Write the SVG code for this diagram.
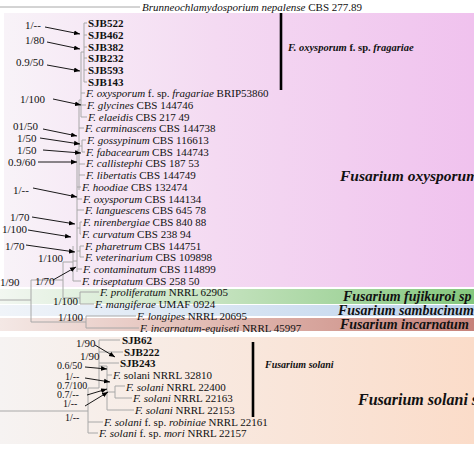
<svg xmlns="http://www.w3.org/2000/svg" width="474" height="474" viewBox="0 0 474 474">
<defs>
<linearGradient id="gPink" x1="0" y1="0" x2="1" y2="0"><stop offset="0" stop-color="#f8f3f8"/><stop offset="0.45" stop-color="#f4daf2"/><stop offset="1" stop-color="#f0c2ee"/></linearGradient>
<linearGradient id="gGreen" x1="0" y1="0" x2="1" y2="0"><stop offset="0" stop-color="#f2f7f1"/><stop offset="0.45" stop-color="#c6e3c0"/><stop offset="1" stop-color="#84c77d"/></linearGradient>
<linearGradient id="gBlue" x1="0" y1="0" x2="1" y2="0"><stop offset="0" stop-color="#f0f4f9"/><stop offset="1" stop-color="#bdd3ec"/></linearGradient>
<linearGradient id="gBrown" x1="0" y1="0" x2="1" y2="0"><stop offset="0" stop-color="#f4e8e5"/><stop offset="0.5" stop-color="#dfb5ad"/><stop offset="1" stop-color="#c6827a"/></linearGradient>
<linearGradient id="gPeach" x1="0" y1="0" x2="1" y2="0"><stop offset="0" stop-color="#f6f3f2"/><stop offset="1" stop-color="#fbdcc9"/></linearGradient>
<marker id="ah" viewBox="0 0 10 10" refX="10" refY="5" markerWidth="6" markerHeight="6" orient="auto" markerUnits="userSpaceOnUse"><path d="M0,1 L10,5 L0,9 z" fill="#000"/></marker>
</defs>
<style>
.t{font-family:"Liberation Serif","Times New Roman",serif;font-size:11px;fill:#111}
.b{font-weight:bold}
.i{font-style:italic}
.s{font-family:"Liberation Serif","Times New Roman",serif;font-size:11px;fill:#111}
.sm{font-size:10px}
.big{font-family:"Liberation Serif","Times New Roman",serif;font-weight:bold;font-style:italic;fill:#111}
.tree line{stroke:#a8a8a8;stroke-width:1}
.arr line{stroke:#000;stroke-width:0.9;marker-end:url(#ah)}
.bar{stroke:#000;stroke-width:2.6}
</style>
<rect width="474" height="474" fill="#fff"/>
<g id="bands">
<rect x="4" y="13" width="470" height="274" fill="url(#gPink)"/>
<rect x="0" y="289" width="474" height="15" fill="url(#gGreen)"/>
<rect x="0" y="305" width="474" height="11" fill="url(#gBlue)"/>
<rect x="0" y="318" width="474" height="13" fill="url(#gBrown)"/>
<rect x="0" y="337" width="474" height="107" fill="url(#gPeach)"/>
</g>
<g id="connectors">
<g class="tree">
<line x1="0" y1="7" x2="140" y2="7"/>
<line x1="84" y1="23" x2="84" y2="82"/>
<line x1="84" y1="23" x2="87" y2="23"/><line x1="84" y1="35" x2="87" y2="35"/><line x1="84" y1="47" x2="87" y2="47"/><line x1="84" y1="58" x2="87" y2="58"/><line x1="84" y1="70" x2="87" y2="70"/><line x1="84" y1="82" x2="87" y2="82"/>
<line x1="81" y1="52" x2="81" y2="117"/><line x1="81" y1="52" x2="84" y2="52"/><line x1="81" y1="93" x2="85" y2="93"/><line x1="81" y1="105" x2="86" y2="105"/><line x1="81" y1="117" x2="87" y2="117"/>
<line x1="79" y1="100" x2="79" y2="190"/><line x1="79" y1="100" x2="81" y2="100"/><line x1="79" y1="128" x2="84" y2="128"/>
<line x1="82" y1="140" x2="82" y2="152"/><line x1="79" y1="146" x2="82" y2="146"/><line x1="82" y1="140" x2="86" y2="140"/><line x1="82" y1="152" x2="85" y2="152"/>
<line x1="79" y1="164" x2="85" y2="164"/><line x1="79" y1="175" x2="85" y2="175"/>
<line x1="77" y1="150" x2="77" y2="272"/><line x1="77" y1="150" x2="79" y2="150"/><line x1="77" y1="187" x2="81" y2="187"/><line x1="77" y1="199" x2="82" y2="199"/><line x1="77" y1="210" x2="84" y2="210"/>
<line x1="80" y1="222" x2="80" y2="234"/><line x1="77" y1="228" x2="80" y2="228"/><line x1="80" y1="222" x2="82" y2="222"/><line x1="80" y1="234" x2="81" y2="234"/>
<line x1="80" y1="246" x2="80" y2="257"/><line x1="77" y1="251" x2="80" y2="251"/><line x1="80" y1="246" x2="84" y2="246"/><line x1="80" y1="257" x2="84" y2="257"/>
<line x1="77" y1="269" x2="82" y2="269"/>
<line x1="73" y1="246" x2="73" y2="281"/><line x1="73" y1="261" x2="77" y2="261"/><line x1="73" y1="281" x2="81" y2="281"/>
<line x1="63" y1="262" x2="63" y2="298"/><line x1="63" y1="262" x2="73" y2="262"/><line x1="63" y1="298" x2="80" y2="298"/>
<line x1="80" y1="292" x2="80" y2="304"/><line x1="80" y1="292" x2="99" y2="292"/><line x1="80" y1="304" x2="94" y2="304"/>
<line x1="31" y1="280" x2="31" y2="322"/><line x1="31" y1="280" x2="63" y2="280"/><line x1="31" y1="322" x2="86" y2="322"/>
<line x1="86" y1="316" x2="86" y2="328"/><line x1="86" y1="316" x2="136" y2="316"/><line x1="86" y1="328" x2="139" y2="328"/>
<line x1="0" y1="300" x2="31" y2="300"/>
<line x1="99" y1="340" x2="99" y2="388"/><line x1="99" y1="340" x2="120" y2="340"/><line x1="99" y1="352" x2="123" y2="352"/><line x1="99" y1="363" x2="119" y2="363"/>
<line x1="107" y1="366" x2="107" y2="410"/><line x1="99" y1="366" x2="107" y2="366"/><line x1="107" y1="375" x2="112" y2="375"/><line x1="107" y1="410" x2="134" y2="410"/>
<line x1="115" y1="386" x2="115" y2="398"/><line x1="107" y1="392" x2="115" y2="392"/><line x1="115" y1="386" x2="125" y2="386"/><line x1="115" y1="398" x2="132" y2="398"/>
<line x1="88" y1="388" x2="88" y2="433"/><line x1="88" y1="388" x2="99" y2="388"/><line x1="0" y1="411" x2="88" y2="411"/><line x1="88" y1="422" x2="103" y2="422"/><line x1="88" y1="433" x2="98" y2="433"/>
</g>
<g class="arr">
<line x1="45" y1="27" x2="80" y2="34"/>
<line x1="47" y1="42" x2="80" y2="49"/>
<line x1="47" y1="65" x2="80" y2="71"/>
<line x1="53" y1="99" x2="81" y2="105"/>
<line x1="43" y1="129" x2="77" y2="136"/>
<line x1="40" y1="138" x2="80" y2="144"/>
<line x1="43" y1="150" x2="81" y2="153"/>
<line x1="38" y1="162" x2="77" y2="162"/>
<line x1="33" y1="188" x2="77" y2="197"/>
<line x1="32" y1="217" x2="75" y2="224"/>
<line x1="28" y1="230" x2="71" y2="237"/>
<line x1="26" y1="245" x2="75" y2="252"/>
<line x1="53" y1="280" x2="76" y2="267"/>
<line x1="95" y1="345" x2="115" y2="357"/>
<line x1="85" y1="367" x2="107" y2="369"/>
<line x1="85" y1="378" x2="110" y2="382"/>
<line x1="87" y1="395" x2="107" y2="389"/>
<line x1="85" y1="406" x2="108" y2="392"/>
</g>
<line class="bar" x1="281" y1="13" x2="281" y2="90"/>
<line class="bar" x1="253" y1="342" x2="253" y2="417"/>
</g>
<g id="supports" class="s">
<text x="25" y="29">1/--</text>
<text x="25" y="44">1/80</text>
<text x="16" y="66">0.9/50</text>
<text x="20" y="103">1/100</text>
<text x="13" y="130">01/50</text>
<text x="17" y="142">1/50</text>
<text x="17" y="154">1/50</text>
<text x="8" y="166">0.9/60</text>
<text x="13" y="194">1/--</text>
<text x="10" y="221">1/70</text>
<text x="2" y="233">1/100</text>
<text x="5" y="250">1/70</text>
<text x="38" y="262">1/100</text>
<text x="35" y="285">1/70</text>
<text x="0" y="286">1/90</text>
<text x="53" y="305">1/100</text>
<text x="58" y="321">1/100</text>
<text x="76" y="347">1/90</text>
<text x="80" y="360">1/90</text>
<text class="sm" x="57" y="369">0.6/50</text>
<text class="sm" x="65" y="380">1/--</text>
<text class="sm" x="57" y="389">0.7/100</text>
<text class="sm" x="57" y="398">0.7/--</text>
<text class="sm" x="63" y="407">1/--</text>
<text class="sm" x="65" y="421">1/--</text>
</g>
<g id="taxa" class="t">
<text id="n0" x="142" y="11"><tspan class="i">Brunneochlamydosporium nepalense</tspan> CBS 277.89</text>
<text id="n1" class="b" x="88" y="27">SJB522</text>
<text id="n2" class="b" x="88" y="39">SJB462</text>
<text id="n3" class="b" x="88" y="51">SJB382</text>
<text id="n4" class="b" x="88" y="62">SJB232</text>
<text id="n5" class="b" x="88" y="74">SJB593</text>
<text id="n6" class="b" x="88" y="86">SJB143</text>
<text id="n7" x="86" y="97"><tspan class="i">F. oxysporum</tspan> f. sp. <tspan class="i">fragariae</tspan> BRIP53860</text>
<text id="n8" x="87" y="109"><tspan class="i">F. glycines</tspan> CBS 144746</text>
<text id="n9" x="88" y="121"><tspan class="i">F. elaeidis</tspan> CBS 217 49</text>
<text id="n10" x="85" y="132"><tspan class="i">F. carminascens</tspan> CBS 144738</text>
<text id="n11" x="87" y="144"><tspan class="i">F. gossypinum</tspan> CBS 116613</text>
<text id="n12" x="86" y="156"><tspan class="i">F. fabacearum</tspan> CBS 144743</text>
<text id="n13" x="86" y="167"><tspan class="i">F. callistephi</tspan> CBS 187 53</text>
<text id="n14" x="86" y="179"><tspan class="i">F. libertatis</tspan> CBS 144749</text>
<text id="n15" x="82" y="191"><tspan class="i">F. hoodiae</tspan> CBS 132474</text>
<text id="n16" x="83" y="203"><tspan class="i">F. oxysporum</tspan> CBS 144134</text>
<text id="n17" x="85" y="214"><tspan class="i">F. languescens</tspan> CBS 645 78</text>
<text id="n18" x="83" y="226"><tspan class="i">F. nirenbergiae</tspan> CBS 840 88</text>
<text id="n19" x="82" y="238"><tspan class="i">F. curvatum</tspan> CBS 238 94</text>
<text id="n20" x="85" y="250"><tspan class="i">F. pharetrum</tspan> CBS 144751</text>
<text id="n21" x="85" y="261"><tspan class="i">F. veterinarium</tspan> CBS 109898</text>
<text id="n22" x="83" y="273"><tspan class="i">F. contaminatum</tspan> CBS 114899</text>
<text id="n23" x="82" y="285"><tspan class="i">F. triseptatum</tspan> CBS 258 50</text>
<text id="n24" x="100" y="296"><tspan class="i">F. proliferatum</tspan> NRRL 62905</text>
<text id="n25" x="95" y="308"><tspan class="i">F. mangiferae</tspan> UMAF 0924</text>
<text id="n26" x="137" y="320"><tspan class="i">F. longipes</tspan> NRRL 20695</text>
<text id="n27" x="140" y="332"><tspan class="i">F. incarnatum-equiseti</tspan> NRRL 45997</text>
<text id="n28" class="b" x="122" y="344">SJB62</text>
<text id="n29" class="b" x="124" y="356">SJB222</text>
<text id="n30" class="b" x="120" y="367">SJB243</text>
<text id="n31" x="113" y="379"><tspan class="i">F.</tspan> solani NRRL 32810</text>
<text id="n32" x="126" y="391"><tspan class="i">F. solani</tspan> NRRL 22400</text>
<text id="n33" x="133" y="402"><tspan class="i">F. solani</tspan> NRRL 22163</text>
<text id="n34" x="135" y="414"><tspan class="i">F. solani</tspan> NRRL 22153</text>
<text id="n35" x="104" y="426"><tspan class="i">F. solani</tspan> f. sp. <tspan class="i">robiniae</tspan> NRRL 22161</text>
<text id="n36" x="99" y="437"><tspan class="i">F. solani</tspan> f. sp. <tspan class="i">mori</tspan> NRRL 22157</text>
</g>
<g id="clades">
<text class="big" x="288" y="51" font-size="10.5">F. oxysporum <tspan font-style="normal">f. sp.</tspan> fragariae</text>
<text class="big" x="340" y="181" font-size="15.5">Fusarium oxysporum</text>
<text class="big" x="343" y="301" font-size="14">Fusarium fujikuroi sp</text>
<text class="big" x="338" y="315" font-size="14">Fusarium sambucinum</text>
<text class="big" x="340" y="329" font-size="14">Fusarium incarnatum</text>
<text class="big" x="265" y="368" font-size="10">Fusarium solani</text>
<text class="big" x="358" y="405" font-size="16">Fusarium solani sp</text>
</g>
</svg>
